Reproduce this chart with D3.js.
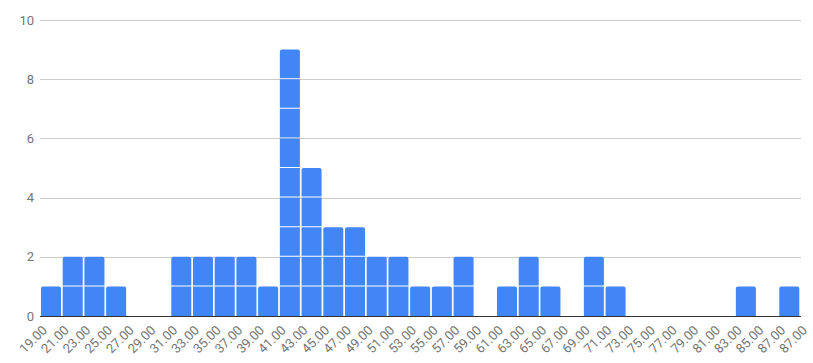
<!DOCTYPE html>
<html>
<head>
<meta charset="utf-8">
<script src="https://cdn.jsdelivr.net/npm/d3@7"></script>
<style>
  body { margin: 0; background: #fff; }
  svg { display: block; font-family: Roboto, "Noto Sans", sans-serif; }
</style>
</head>
<body>
<script>
// bucket counts, one per bucket of width 2 starting at 19
const bucketCounts = [1, 2, 2, 1, 0, 0, 2, 2, 2, 2, 1, 9, 5, 3, 3, 2, 2, 1, 1, 2,
                      0, 1, 2, 1, 0, 2, 1, 0, 0, 0, 0, 0, 1, 0, 1];
const xTickLabels = ["19.00", "21.00", "23.00", "25.00", "27.00", "29.00", "31.00", "33.00",
  "35.00", "37.00", "39.00", "41.00", "43.00", "45.00", "47.00", "49.00", "51.00", "53.00",
  "55.00", "57.00", "59.00", "61.00", "63.00", "65.00", "67.00", "69.00", "71.00", "73.00",
  "75.00", "77.00", "79.00", "81.00", "83.00", "85.00", "87.00", "87.00"];
const yTicks = [0, 2, 4, 6, 8, 10];

const width = 813, height = 363;
const svg = d3.select("body").append("svg")
  .attr("width", width)
  .attr("height", height);

const x = d3.scaleLinear().domain([0, bucketCounts.length]).range([40.5, 800.5]);
const y = d3.scaleLinear().domain([0, 10]).range([316, 20]);

// gridlines + y labels
svg.append("g").selectAll("line")
  .data(yTicks.filter(d => d > 0))
  .enter().append("line")
  .attr("x1", 40).attr("x2", 801)
  .attr("y1", d => Math.round(y(d)) + 0.5)
  .attr("y2", d => Math.round(y(d)) + 0.5)
  .attr("stroke", "#cccccc");

svg.append("g").selectAll("text")
  .data(yTicks)
  .enter().append("text")
  .attr("x", 34)
  .attr("y", d => y(d) + 4.5)
  .attr("text-anchor", "end")
  .attr("font-size", 13)
  .attr("fill", "#757575")
  .text(d => d);

// one box per item, stacked
const boxes = [];
bucketCounts.forEach((c, i) => {
  for (let k = 0; k < c; k++) boxes.push({ i, k, top: k === c - 1 });
});

const bw = x(1) - x(0) - 1.7;
svg.append("g").selectAll("path")
  .data(boxes)
  .enter().append("path")
  .attr("fill", "#4285f4")
  .attr("d", d => {
    const x0 = x(d.i) + 0.5, x1 = x0 + bw;
    const yb = y(d.k), yt = y(d.k + 1);
    const r = d.top ? 2 : 0;
    const bottom = d.k === 0 ? yb : yb - 1;
    return `M${x0},${bottom}V${yt + r}Q${x0},${yt} ${x0 + r},${yt}H${x1 - r}Q${x1},${yt} ${x1},${yt + r}V${bottom}Z`;
  });

// baseline
svg.append("line")
  .attr("x1", 40).attr("x2", 801)
  .attr("y1", 316.5).attr("y2", 316.5)
  .attr("stroke", "#333333");

// x labels, rotated
svg.append("g").selectAll("text")
  .data(xTickLabels)
  .enter().append("text")
  .attr("transform", (d, i) => `translate(${x(i + 0.5) - 3.5},331) rotate(-45)`)
  .attr("text-anchor", "end")
  .attr("font-size", 13)
  .attr("fill", "#757575")
  .text(d => d);
</script>
</body>
</html>
